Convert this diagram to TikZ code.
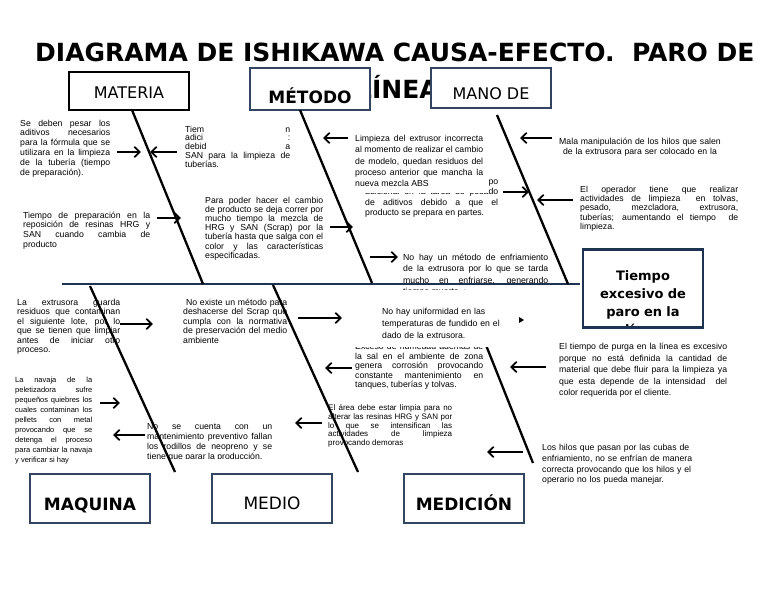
\documentclass[tikz,border=0pt]{standalone}
\usepackage{fontspec}
\setmainfont{Liberation Sans}
\newfontfamily\djv{DejaVu Sans}
\usetikzlibrary{arrows.meta}
\definecolor{navy}{RGB}{30,50,82}
\definecolor{slate}{RGB}{50,68,96}
\newcommand\fs[2]{\fontsize{#1}{#2}\selectfont}
\newcommand\cArrow[5]{\coordinate (#1t) at (#2,#3);\coordinate (#1h) at (#4,#5);\draw[arr] (#1t) -- (#1h);}
\tikzset{
  catbox/.style={draw=slate, line width=2pt, fill=white, inner sep=0pt},
  effbox/.style={draw=navy, line width=2.4pt, fill=white, inner sep=0pt},
  lab/.style={inner sep=0pt, anchor=base, font=\djv\fs{16}{16}},
  blab/.style={inner sep=0pt, anchor=base, font=\djv\bfseries\fs{17}{18}},
  ttl/.style={inner sep=0pt, anchor=base west, font=\djv\bfseries\fs{25}{28}},
  bone/.style={line width=2.3pt, black},
  spine/.style={line width=2.6pt, navy},
  arr/.style={line width=2.6pt, -{Straight Barb[length=5.5pt,width=10.5pt,line width=1.7pt]}},
  tx/.style={inner sep=0pt, anchor=base west, align=justify, font=\fs{8.7}{9.7}},
  tl/.style={inner sep=0pt, anchor=base west, align=left, font=\fs{8.7}{9.7}},
}
\begin{document}
\begin{tikzpicture}[x=1pt,y=-1pt]
\fill[white] (0,0) rectangle (768,594);
\useasboundingbox (0,0) rectangle (768,594);

% title
\node[ttl] (title1) at (35,62) {DIAGRAMA DE ISHIKAWA CAUSA-EFECTO.\ \ PARO DE};
\node[ttl] (title2) at (356,98) {LÍNEA};

% top category boxes
\node[catbox, draw=black, minimum width=120pt, minimum height=38pt] (materia) at (129,91) {};
\node[lab] (materiaT) at (129,99) {MATERIA};
\node[catbox, minimum width=120pt, minimum height=42pt] (metodo) at (310,89) {};
\node[blab] (metodoT) at (310,103) {MÉTODO};
\node[catbox, minimum width=120pt, minimum height=40pt] (mano) at (491,88) {};
\node[lab] (manoT) at (491,99.5) {MANO DE};

% texts (upper half)
\node[tx, text width=90pt, font=\fs{8.7}{9.8}] (t1) at (20,126) {Se deben pesar los\linebreak aditivos necesarios\linebreak para la fórmula que se\linebreak utilizara en la limpieza\linebreak de la tubería (tiempo\linebreak de preparación).};
\node[tx, text width=127pt] (t2) at (23,218) {Tiempo de preparación en la\linebreak reposición de resinas HRG y\linebreak SAN cuando cambia de\linebreak producto};
\node[tx, text width=105pt, font=\fs{8.7}{8.8}] (t3) at (185,132) {Tiem\hfill n\linebreak adici\hfill :\linebreak debid\hfill a\linebreak SAN para la limpieza de\linebreak tuberías.};
\node[tx, text width=118pt, font=\fs{8.7}{9.2}] (t4) at (205,203) {Para poder hacer el cambio\linebreak de producto se deja correr por\linebreak mucho tiempo la mezcla de\linebreak HRG y SAN (Scrap) por la\linebreak tubería hasta que salga con el\linebreak color y las características\linebreak especificadas.};
\node[tx, text width=133pt, font=\fs{8.7}{10.3}] (t6) at (365,184.5) {\hfill po\linebreak adicional en la tarea de pesado\linebreak de aditivos debido a que el\linebreak producto se prepara en partes.};
\fill[white] (350,130) rectangle (488,192.5);
\node[tx, text width=128pt, font=\fs{8.7}{11.3}] (t5) at (355,141.5) {Limpieza del extrusor incorrecta\linebreak al momento de realizar el cambio\linebreak de modelo, quedan residuos del\linebreak proceso anterior que mancha la\linebreak nueva mezcla ABS};
\node[tx, text width=145pt, font=\fs{8.7}{11.5}] (t7) at (403,260) {No hay un método de enfriamiento\linebreak de la extrusora por lo que se tarda\linebreak mucho en enfriarse, generando\linebreak tiempo muerto.};
\node[inner sep=0pt, anchor=base, text width=172pt, align=center, font=\fs{8.7}{10}] (t8) at (640,144.5) {Mala manipulación de los hilos que salen\\de la extrusora para ser colocado en la};
\node[tx, text width=158pt, font=\fs{8.7}{9.2}] (t9) at (580,192.5) {El operador tiene que realizar\linebreak actividades de limpieza \ en tolvas,\linebreak pesado, mezcladora, extrusora,\linebreak tuberías; aumentando el tiempo \ de\linebreak limpieza.};

% texts (lower half)
\node[tx, text width=103pt, font=\fs{8.7}{9.4}] (t10) at (17,305.5) {La extrusora guarda\linebreak residuos que contaminan\linebreak el siguiente lote, por lo\linebreak que se tienen que limpiar\linebreak antes de iniciar otro\linebreak proceso.};
\node[tx, text width=104pt, font=\fs{8.7}{9.4}] (t11) at (183,305.5) {\ No existe un método para\linebreak deshacerse del Scrap que\linebreak cumpla con la normativa\linebreak de preservación del medio\linebreak ambiente};
\node[tx, text width=128pt, font=\fs{8.7}{9.6}] (t13) at (355,349.5) {Exceso de humedad además de\linebreak la sal en el ambiente de zona\linebreak genera corrosión provocando\linebreak constante mantenimiento en\linebreak tanques, tuberías y tolvas.};
\node[tx, text width=168pt, font=\fs{8.7}{11.6}] (t14) at (559,349.5) {El tiempo de purga en la línea es excesivo\linebreak porque no está definida la cantidad de\linebreak material que debe fluir para la limpieza ya\linebreak que esta depende de la intensidad \ del\linebreak color requerida por el cliente.};
\begin{scope}
\clip (0,370) rectangle (100,464);
\node[tx, text width=77pt, font=\fs{7.5}{10}] (t15) at (15,382) {La navaja de la\linebreak peletizadora sufre\linebreak pequeños quiebres los\linebreak cuales contaminan los\linebreak pellets con metal\linebreak provocando que se\linebreak detenga el proceso\linebreak para cambiar la navaja\linebreak y verificar si hay};
\end{scope}
\begin{scope}
\clip (140,415) rectangle (280,458);
\node[tx, text width=125pt, font=\fs{8.7}{10}] (t16) at (147,429.5) {No se cuenta con un\linebreak mantenimiento preventivo fallan\linebreak los rodillos de neopreno y se\linebreak tiene que parar la producción.};
\end{scope}
\node[tx, text width=124pt, font=\fs{8}{8.8}] (t17) at (328,410.5) {El área debe estar limpia para no\linebreak alterar las resinas HRG y SAN por\linebreak lo que se intensifican las\linebreak actividades de limpieza\linebreak provocando demoras};
\node[tl, text width=150pt, font=\fs{8.7}{10.8}] (t18) at (542,450.5) {Los hilos que pasan por las cubas de\\enfriamiento, no se enfrían de manera\\correcta provocando que los hilos y el\\operario no los pueda manejar.};

% spine and bones
\coordinate (sp1) at (62,284); \coordinate (sp2) at (580,284);
\draw[spine] (sp1) -- (sp2);
\coordinate (b1s) at (132,110); \coordinate (b1e) at (203,284);
\coordinate (b2s) at (300,110); \coordinate (b2e) at (372,283);
\coordinate (b3s) at (497,115); \coordinate (b3e) at (568,284);
\coordinate (b4s) at (90,286);  \coordinate (b4e) at (175,472);
\coordinate (b5s) at (273,285); \coordinate (b5e) at (358,472);
\coordinate (b6s) at (464,290); \coordinate (b6e) at (533,463);
\draw[bone] (b1s) -- (b1e);
\draw[bone] (b2s) -- (b2e);
\draw[bone] (b3s) -- (b3e);
\draw[bone] (b4s) -- (b4e);
\draw[bone] (b5s) -- (b5e);
\draw[bone] (b6s) -- (b6e);

% text box covering parts below the spine
\fill[white] (345,289.5) rectangle (519,346.5);
\node[tl, text width=125pt, font=\fs{8.7}{12.2}] (t12) at (382,314.5) {No hay uniformidad en las\\temperaturas de fundido en el\\dado de la extrusora.};
\fill (519,317) -- (524,320) -- (519,323) -- cycle;

% arrows
\cArrow{a1}{117}{152}{141}{152}
\cArrow{a2}{177}{152}{150}{152}
\cArrow{a3}{157}{218}{181}{218}
\cArrow{a4}{348}{138}{323}{138}
\cArrow{a5}{330}{227}{353}{227}
\cArrow{a6}{370}{257}{398}{257}
\cArrow{a7}{552}{138}{520}{138}
\cArrow{a8}{503}{192}{529}{192}
\cArrow{a9}{573}{200}{537}{200}
\cArrow{a10}{120}{324}{153}{324}
\cArrow{a11}{298}{318}{342}{318}
\cArrow{a12}{352}{368}{325}{368}
\cArrow{a13}{546}{367}{510}{367}
\cArrow{a14}{100}{403}{120}{403}
\cArrow{a15}{145}{435}{113}{435}
\cArrow{a16}{322}{423}{295}{423}
\cArrow{a17}{523}{452}{487}{452}

% effect box
\node[effbox, minimum width=120pt, minimum height=78pt] (efecto) at (643,288.5) {};
\begin{scope}
\clip (584.5,250.5) rectangle (701.5,325.5);
\node[inner sep=0pt, anchor=base, text width=118pt, align=center, font=\djv\bfseries\fs{13}{18}] (efectoT) at (643,280) {Tiempo\\excesivo de\\paro en la\\línea};
\end{scope}

% bottom category boxes
\node[catbox, minimum width=120pt, minimum height=49pt] (maquina) at (90,498.5) {};
\node[blab] (maquinaT) at (90,510) {MAQUINA};
\node[catbox, minimum width=120pt, minimum height=49pt] (medio) at (272,498.5) {};
\node[lab, font=\djv\fs{17}{17}] (medioT) at (272,509) {MEDIO};
\node[catbox, minimum width=120pt, minimum height=49pt] (medicion) at (464,498.5) {};
\node[blab] (medicionT) at (464,510) {MEDICIÓN};
\end{tikzpicture}
\end{document}
